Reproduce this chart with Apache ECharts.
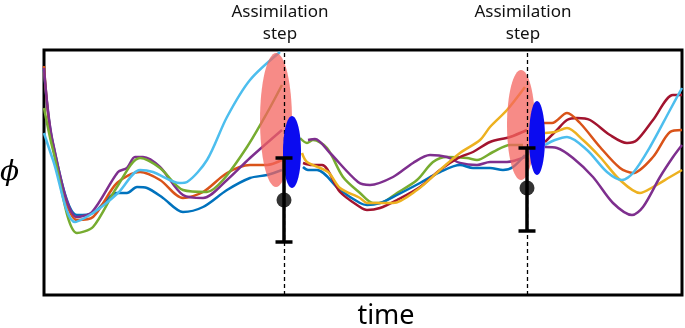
<!DOCTYPE html>
<html>
<head>
<meta charset="utf-8">
<script src="https://cdn.jsdelivr.net/npm/echarts@6/dist/echarts.min.js"></script>
<style>
  html, body { margin: 0; padding: 0; background: #fff; }
  #chart { width: 685px; height: 328px; }
</style>
</head>
<body>
<div id="chart"></div>
<script>
// ensemble members before the first assimilation step  [time, phi]
const orangeA = [[0,229],[9,148],[33,75],[49,78],[73,112],[96,123],[116,115],[139,97],[159,103],[183,122],[206,130],[223,130],[238,135]]
const purpleA = [[0,227],[9,152],[33,78],[48,83],[74,123],[83,127],[91,138],[99,138],[116,128],[139,100],[159,97],[183,115],[206,137],[238,165]]
const greenA = [[0,187],[9,145],[33,62],[49,68],[73,108],[96,137],[116,127],[139,105],[163,103],[179,115],[203,148],[223,182],[238,210]]
const lightBlueA = [[0,162],[9,135],[31,73],[49,82],[74,102],[96,125],[109,123],[136,112],[143,113],[163,135],[183,178],[206,215],[236,243]]
const blueA = [[0,225],[9,151],[33,80],[49,82],[73,102],[83,102],[93,108],[103,107],[119,97],[139,83],[159,88],[183,105],[206,117],[223,120],[238,125]]

// between the two assimilation steps
const greenB = [[256,157],[263,152],[269,155],[283,147],[299,118],[316,102],[329,92],[336,92],[353,102],[373,115],[389,133],[403,138],[423,137],[433,135],[449,143],[466,150],[479,150]]
const purpleB = [[264,155],[271,156],[286,142],[314,113],[326,110],[349,118],[369,132],[386,140],[403,138],[416,132],[433,130],[446,133],[463,133],[481,138]]
const blueB = [[259,128],[264,125],[273,125],[296,105],[316,92],[323,90],[336,92],[353,100],[376,112],[396,123],[416,130],[429,127],[446,127],[459,125],[469,128],[481,140]]
const darkRedB = [[259,132],[268,130],[278,130],[296,103],[316,88],[323,85],[336,87],[353,95],[376,108],[396,125],[416,138],[429,143],[446,153],[466,158],[483,165]]
const yellowB = [[258,142],[263,133],[284,123],[296,107],[316,97],[323,92],[349,92],[373,105],[396,125],[416,142],[436,155],[446,168],[463,185],[481,208]]

// after the second assimilation step
const darkRedC = [[501,153],[513,165],[523,175],[533,177],[546,175],[566,160],[583,152],[593,155],[609,175],[629,200],[638,200]]
const orangeC = [[499,172],[508,172],[523,182],[536,172],[556,148],[576,127],[589,122],[609,138],[626,163],[638,165]]
const yellowC = [[501,162],[511,163],[523,167],[539,155],[556,138],[576,115],[596,102],[609,108],[626,118],[638,125]]
const lightBlueC = [[501,150],[511,155],[523,158],[543,145],[563,123],[578,115],[589,122],[606,148],[626,185],[638,207]]
const purpleC = [[501,148],[513,147],[529,137],[549,118],[569,92],[588,80],[599,88],[616,118],[629,138],[638,150]]

// forecast spread (red) and analysis spread (blue): [time, phi, halfWidth, halfHeight]
const forecastSpread = [[232,175,16,67],[477,170,14,55]]
const analysisSpread = [[248,143,9,36],[493,157,8,37]]

// observations: [time, low, high] and the observed value
const obsBars = [[240,53,137],[483,64,147]]
const obsPoints = [[240,95],[483,107]]
const assimTimes = [240, 483]

const colors = {
  blue: '#0072BD', orange: '#D95319', yellow: '#EDB120', purple: '#7E2F8E',
  green: '#77AC30', lightBlue: '#4DBEEE', darkRed: '#A2142F'
}

const members = [
  [blueA, colors.blue], [orangeA, colors.orange], [purpleA, colors.purple],
  [greenA, colors.green], [lightBlueA, colors.lightBlue],
  [greenB, colors.green], [purpleB, colors.purple], [blueB, colors.blue],
  [darkRedB, colors.darkRed], [yellowB, colors.yellow],
  [darkRedC, colors.darkRed], [orangeC, colors.orange], [yellowC, colors.yellow],
  [lightBlueC, colors.lightBlue], [purpleC, colors.purple]
]

function ellipseItem(params, api) {
  const c = api.coord([api.value(0), api.value(1)])
  const s = api.size([api.value(2), api.value(3)])
  const points = []
  for (let i = 0; i < 64; i++) {
    const a = i / 64 * Math.PI * 2
    points.push([c[0] + s[0] * Math.cos(a), c[1] + s[1] * Math.sin(a)])
  }
  return { type: 'polygon', shape: { points: points }, style: { fill: api.visual('color') } }
}

const chart = echarts.init(document.getElementById('chart'))

const series = members.map(([data, color]) => ({
  type: 'line',
  data: data,
  showSymbol: false,
  smooth: 0.3,
  silent: true,
  z: 2,
  lineStyle: { color: color, width: 2.5 },
  itemStyle: { color: color }
}))

series.push({
  type: 'custom',
  data: forecastSpread,
  renderItem: ellipseItem,
  itemStyle: { color: 'rgba(244,100,95,0.75)' },
  z: 3
})

series.push({
  type: 'line',
  data: [],
  z: 4,
  markLine: {
    silent: true,
    symbol: 'none',
    lineStyle: { color: '#000', type: [4, 3], width: 1.3 },
    label: {
      show: true,
      position: 'end',
      distance: 5,
      formatter: 'Assimilation\nstep',
      fontFamily: 'Noto Sans',
      fontSize: 17,
      lineHeight: 22,
      color: '#111',
      padding: [0, 8, 0, 0]
    },
    data: assimTimes.map(t => ({ xAxis: t }))
  }
})

series.push({
  type: 'custom',
  data: analysisSpread,
  renderItem: ellipseItem,
  itemStyle: { color: '#0b0bf0' },
  z: 5
})

series.push({
  type: 'custom',
  data: obsBars,
  z: 6,
  renderItem: function (params, api) {
    const lo = api.coord([api.value(0), api.value(1)])
    const hi = api.coord([api.value(0), api.value(2)])
    const style = { stroke: '#000', lineWidth: 3.5 }
    return {
      type: 'group',
      children: [
        { type: 'line', shape: { x1: lo[0], y1: lo[1], x2: hi[0], y2: hi[1] }, style: style },
        { type: 'line', shape: { x1: lo[0] - 8.5, y1: lo[1], x2: lo[0] + 8.5, y2: lo[1] }, style: style },
        { type: 'line', shape: { x1: hi[0] - 8.5, y1: hi[1], x2: hi[0] + 8.5, y2: hi[1] }, style: style }
      ]
    }
  }
})

series.push({
  type: 'scatter',
  data: obsPoints,
  symbolSize: 15,
  itemStyle: { color: '#000' },
  z: 7
})

chart.setOption({
  animation: false,
  grid: {
    left: 44, right: 3, top: 50, bottom: 33,
    outerBoundsMode: 'none',
    show: true, borderColor: '#000', borderWidth: 3
  },
  xAxis: {
    type: 'value', min: 0, max: 638,
    axisLine: { show: false }, axisTick: { show: false },
    axisLabel: { show: false }, splitLine: { show: false },
    name: 'time', nameLocation: 'middle', nameGap: 8,
    nameTextStyle: { fontFamily: 'Noto Sans', fontSize: 27, color: '#000', padding: [0, 0, 0, 46] }
  },
  yAxis: {
    type: 'value', min: 0, max: 245,
    axisLine: { show: false }, axisTick: { show: false },
    axisLabel: { show: false }, splitLine: { show: false },
    name: 'ϕ', nameLocation: 'middle', nameRotate: 0, nameGap: 25,
    nameTextStyle: { fontFamily: 'DejaVu Serif', fontStyle: 'italic', fontSize: 28, color: '#000', padding: [0, 0, 4, 0] }
  },
  series: series
})
</script>
</body>
</html>
